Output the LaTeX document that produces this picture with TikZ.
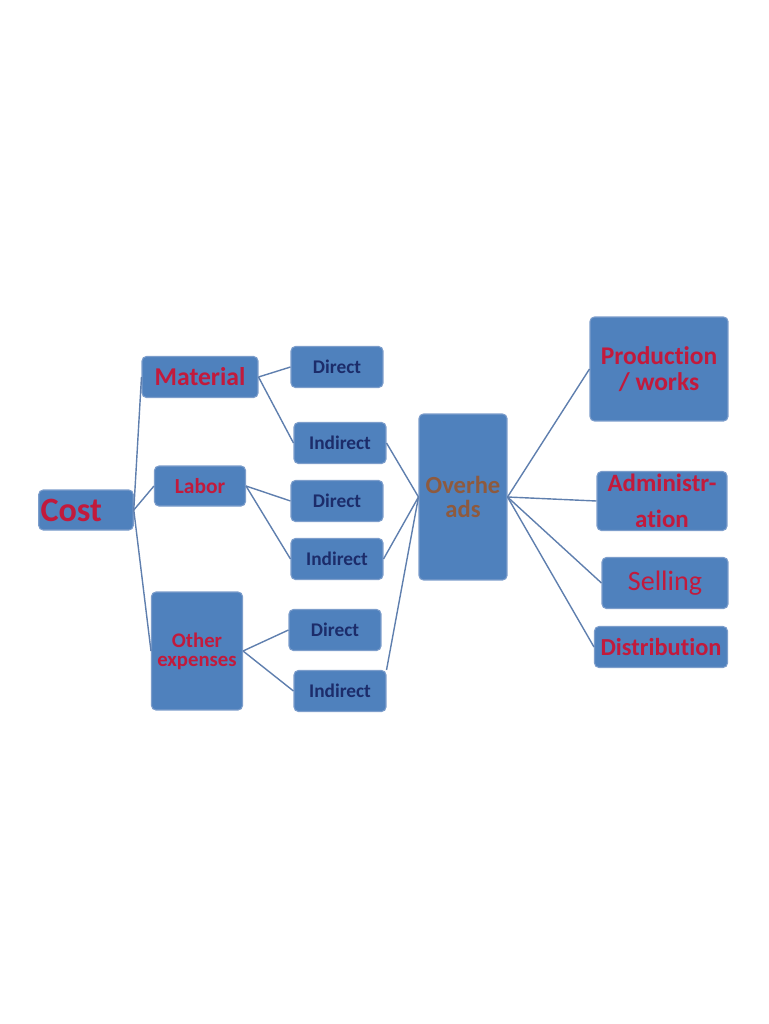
\documentclass[tikz,border=0pt]{standalone}
\usepackage{fontspec}
\setmainfont{Carlito}[Ligatures=NoCommon]
\usepackage{tikz}
\definecolor{boxblue}{HTML}{4F81BD}
\definecolor{boxline}{HTML}{7C9DCB}
\definecolor{crimson}{HTML}{C21A3C}
\definecolor{navy}{HTML}{1C2C6A}
\definecolor{umber}{HTML}{8E5A3E}
\definecolor{linkblue}{HTML}{5F7FAE}
\newcommand{\fs}[1]{\fontsize{#1}{#1}\selectfont}

\begin{document}
\begin{tikzpicture}[
  x=0.02cm,y=-0.02cm,
  font=\bfseries,
  box/.style={draw=boxline,fill=boxblue,rounded corners=2.5pt,align=center,inner sep=1pt,line width=0.6pt},
  head/.style={box,text=crimson},
  sub/.style={box,text=navy,font=\bfseries\fs{11},minimum width=1.84cm,minimum height=0.82cm},
  kind/.style={box,text=crimson},
  link/.style={draw=linkblue,line width=0.8pt}]
  \useasboundingbox (0,0) rectangle (768,1024);
  % cost heads
  \node[head,font=\bfseries\fs{19.4},text width=1.82cm,align=left,minimum height=0.8cm] (cost) at (86,510) {Cost};
  \node[head,font=\bfseries\fs{14.6},minimum width=2.32cm,minimum height=0.82cm] (mat) at (200,377) {Material};
  \node[head,font=\bfseries\fs{12.2},minimum width=1.82cm,minimum height=0.8cm] (lab) at (200,486) {Labor};
  \node[head,font=\bfseries\fs{11.8},minimum width=1.82cm,minimum height=2.36cm] (oth) at (197,651) {Other\\[-1pt]expenses};
  % direct / indirect
  \node[sub] (dmat) at (337,367) {Direct};
  \node[sub] (imat) at (340,443) {Indirect};
  \node[sub] (dlab) at (337,501) {Direct};
  \node[sub] (ilab) at (337,559) {Indirect};
  \node[sub] (doth) at (335,630) {Direct};
  \node[sub] (ioth) at (340,691) {Indirect};
  % overheads
  \node[box,text=umber,font=\bfseries\fs{14},minimum width=1.76cm,minimum height=3.32cm] (oh) at (463,497) {Overhe\\[0pt]ads};
  % kinds of overheads
  \node[kind,font=\bfseries\fs{14.5},minimum width=2.76cm,minimum height=2.08cm] (prod) at (659,369) {Production\\[0pt]/ works};
  \node[kind,font=\bfseries\fs{14.2},minimum width=2.6cm,minimum height=1.18cm] (adm) at (662,501) {Administr-\\[6pt]ation};
  \node[kind,font=\mdseries\fs{16},minimum width=2.52cm,minimum height=1.02cm] (sell) at (665,583) {Selling};
  \node[kind,font=\bfseries\fs{13.9},minimum width=2.66cm,minimum height=0.82cm] (dist) at (661,647) {Distribution};
  % links
  \draw[link] (cost.east) -- (mat.west); \draw[link] (cost.east) -- (lab.west); \draw[link] (cost.east) -- (oth.west);
  \draw[link] (mat.east) -- (dmat.west); \draw[link] (mat.east) -- (imat.west);
  \draw[link] (lab.east) -- (dlab.west); \draw[link] (lab.east) -- (ilab.west);
  \draw[link] (oth.east) -- (doth.west); \draw[link] (oth.east) -- (ioth.west);
  \draw[link] (imat.east) -- (oh.west); \draw[link] (ilab.east) -- (oh.west); \draw[link] (ioth.north east) -- (oh.west);
  \draw[link] (oh.east) -- (prod.west); \draw[link] (oh.east) -- (adm.west);
  \draw[link] (oh.east) -- (sell.west); \draw[link] (oh.east) -- (dist.west);
\end{tikzpicture}
\end{document}
